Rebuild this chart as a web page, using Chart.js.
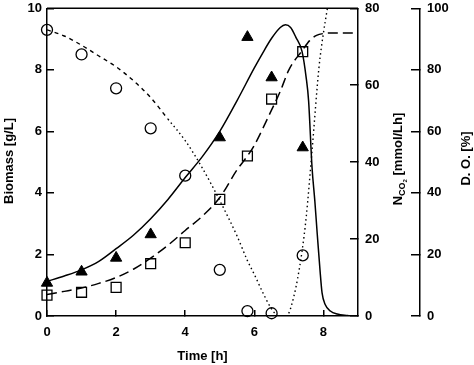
<!DOCTYPE html>
<html><head><meta charset="utf-8">
<script src="https://cdn.jsdelivr.net/npm/chart.js@4/dist/chart.umd.min.js"></script>
<style>html,body{margin:0;padding:0;background:#fff;}#c{display:block;}</style>
</head><body>
<canvas id="c" width="474" height="365"></canvas>
<script>
// ---- tick labels ----
const timeTicks = [0, 2, 4, 6, 8];
const biomassTicks = [0, 2, 4, 6, 8, 10];
const nco2Ticks = [0, 20, 40, 60, 80];
const doTicks = [0, 20, 40, 60, 80, 100];

// ---- measured data ----
const biomassTimes = [0, 1, 2, 3, 4, 5, 5.8, 6.5, 7.4];
const biomassMeasured = [0.68, 0.77, 0.93, 1.7, 2.38, 3.79, 5.2, 7.05, 8.59];   // g/L
const nco2Times = [0, 1, 2, 3, 5, 5.8, 6.5, 7.4];
const nco2Measured = [8.6, 11.5, 15.1, 21.2, 46.4, 72.5, 62, 43.8];           // mmol/Lh
const doTimes = [0, 1, 2, 3, 4, 5, 5.8, 6.5, 7.4];
const doMeasured = [93, 85, 74, 61, 45.6, 15, 1.6, 0.9, 19.7];                // %

// ---- model curves ----
const biomassModelT = [0, 0.5, 1, 1.5, 2, 2.5, 3, 3.5, 4, 4.5, 5, 5.5, 5.8, 6, 6.5, 6.75, 7, 7.4, 7.6, 7.8, 8, 8.3, 9];
const biomassModel = [0.7, 0.8, 0.91, 1.06, 1.25, 1.52, 1.88, 2.3, 2.78, 3.25, 3.85, 4.75, 5.2, 5.55, 6.7, 7.3, 8.0, 8.65, 8.95, 9.12, 9.18, 9.2, 9.2];
const nco2ModelT = [0, 0.5, 1, 1.5, 2, 2.5, 3, 3.5, 4, 4.5, 5, 5.5, 6, 6.25, 6.5, 6.75, 6.9, 7.05, 7.2, 7.38, 7.5, 7.57, 7.67, 7.75, 7.82, 7.9, 7.96, 8.05, 8.2, 8.4, 8.7, 8.8];
const nco2Model = [9, 10.4, 12, 14.2, 17.5, 21, 25.3, 30.3, 36, 41.5, 48, 56, 64.5, 68.5, 72.2, 75, 75.7, 75, 72.5, 68.8, 62, 56, 38.6, 30, 21.4, 12, 6, 3, 1.3, 0.5, 0.1, 0];
const doModelT = [0, 0.5, 1, 1.5, 2, 2.5, 3, 3.5, 4, 4.5, 5, 5.5, 5.8, 6, 6.25, 6.46, 6.6, 6.7, 6.9, 7.0, 7.14, 7.25, 7.38, 7.5, 7.67, 7.87, 8.0, 8.1, 8.2];
const doModel = [93, 91, 88, 84.5, 81, 76.5, 71, 64, 57, 48, 37.5, 26, 18, 13.5, 7.5, 3, 0.8, 0, 0, 1, 6.2, 12, 21, 32, 53.7, 80.7, 92, 99, 106];

const pts = (xs, ys) => xs.map((x, i) => ({ x: x, y: ys[i] }));
const FONT = '"Liberation Sans", Arial, Helvetica, sans-serif';

const framePlugin = {
  id: 'frameAndTitles',
  afterDraw(chart) {
    const ctx = chart.ctx, ca = chart.chartArea;
    ctx.save();
    ctx.strokeStyle = '#000';
    ctx.lineWidth = 1.5;
    ctx.beginPath();
    ctx.moveTo(ca.left, ca.top);
    ctx.lineTo(ca.right, ca.top);
    ctx.stroke();
    ctx.fillStyle = '#000';
    function vtitle(parts, bx, cy) {
      ctx.save();
      ctx.translate(bx, cy);
      ctx.rotate(-Math.PI / 2);
      ctx.textBaseline = 'alphabetic';
      ctx.textAlign = 'left';
      let total = 0;
      parts.forEach(p => { ctx.font = 'bold ' + p.size + 'px ' + FONT; p.w = ctx.measureText(p.text).width; total += p.w; });
      let x = -total / 2;
      parts.forEach(p => { ctx.font = 'bold ' + p.size + 'px ' + FONT; ctx.fillText(p.text, x, p.dy || 0); x += p.w; });
      ctx.restore();
    }
    const sy = chart.scales.y, s1 = chart.scales.y1, s2 = chart.scales.y2;
    vtitle([{ text: 'Biomass [g/L]', size: 13 }], sy.left + 13, 161);
    vtitle([{ text: 'N', size: 13 }, { text: 'CO', size: 9, dy: 3 }, { text: '2', size: 6, dy: 5 }, { text: ' [mmol/Lh]', size: 13 }], s1.left + 43.5, 159);
    vtitle([{ text: 'D. O. [%]', size: 13 }], s2.left + 49.5, 158.5);
    ctx.restore();
  }
};

const tickFont = { family: FONT, size: 13, weight: 'bold', lineHeight: 1.1 };
const axisCommon = (ticksArr, tl, pad, width) => ({
  type: 'linear',
  border: { display: true, color: '#000', width: 1.5 },
  grid: { drawOnChartArea: false, drawTicks: true, tickLength: tl, color: '#000', lineWidth: 1.5 },
  ticks: { color: '#000', font: tickFont, padding: pad, includeBounds: false },
  afterBuildTicks: s => { s.ticks = ticksArr.map(v => ({ value: v })); },
  afterFit: s => {
    if (s.isHorizontal()) { s.height = width; }
    else { s.width = width; s.paddingTop = 7; s.paddingBottom = 0; }
  }
});

const xAxis = axisCommon(timeTicks, -6, 15, 49);
xAxis.min = 0; xAxis.max = 9; xAxis.position = 'bottom';
xAxis.title = { display: true, text: 'Time [h]', color: '#000', font: { family: FONT, size: 13, weight: 'bold', lineHeight: 1.2 }, padding: { top: 0, bottom: 1 } };

const yAxis = axisCommon(biomassTicks, -7, 12, 47);
yAxis.min = 0; yAxis.max = 10; yAxis.position = 'left';

const y1Axis = axisCommon(nco2Ticks, -8, 15, 62);
y1Axis.min = 0; y1Axis.max = 80; y1Axis.position = 'right'; y1Axis.weight = 0;

const y2Axis = axisCommon(doTicks, -9, 16, 54);
y2Axis.min = 0; y2Axis.max = 100; y2Axis.position = 'right'; y2Axis.weight = 1;

new Chart(document.getElementById('c'), {
  type: 'scatter',
  data: {
    datasets: [
      { label: 'NCO2 model', data: pts(nco2ModelT, nco2Model), yAxisID: 'y1', showLine: true, borderColor: '#000', borderWidth: 1.5, pointRadius: 0, cubicInterpolationMode: 'monotone', fill: false },
      { label: 'Biomass model', data: pts(biomassModelT, biomassModel), yAxisID: 'y', showLine: true, borderColor: '#000', borderWidth: 1.5, borderDash: [10, 5], pointRadius: 0, cubicInterpolationMode: 'monotone', fill: false },
      { label: 'DO model', data: pts(doModelT, doModel), yAxisID: 'y2', showLine: true, borderColor: '#000', borderWidth: 1.4, pointRadius: 0, cubicInterpolationMode: 'monotone', fill: false,
        segment: { borderDash: c => c.p0.parsed.x < 3.2 ? [4, 4] : [1.5, 3] } },
      { label: 'NCO2', data: pts(nco2Times, nco2Measured), yAxisID: 'y1', pointStyle: 'triangle', pointRadius: 6.5, backgroundColor: '#000', borderColor: '#000', borderWidth: 1, clip: false },
      { label: 'Biomass', data: pts(biomassTimes, biomassMeasured), yAxisID: 'y', pointStyle: 'rect', pointRadius: 7, backgroundColor: 'rgba(0,0,0,0)', borderColor: '#000', borderWidth: 1.3, clip: false },
      { label: 'D.O.', data: pts(doTimes, doMeasured), yAxisID: 'y2', pointStyle: 'circle', pointRadius: 5.5, backgroundColor: 'rgba(0,0,0,0)', borderColor: '#000', borderWidth: 1.3, clip: false }
    ]
  },
  options: {
    responsive: false,
    animation: false,
    devicePixelRatio: 1,
    layout: { padding: 0 },
    plugins: { legend: { display: false }, tooltip: { enabled: false } },
    scales: { x: xAxis, y: yAxis, y1: y1Axis, y2: y2Axis }
  },
  plugins: [framePlugin]
});
</script>
</body></html>
